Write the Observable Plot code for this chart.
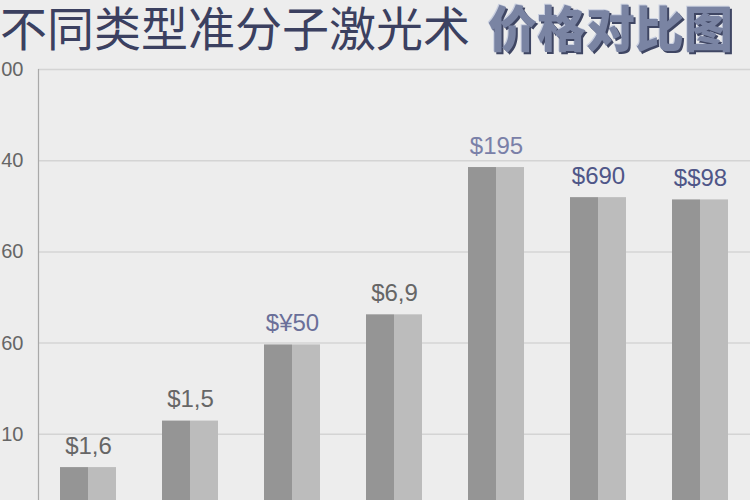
<!DOCTYPE html>
<html>
<head>
<meta charset="utf-8">
<script src="https://cdn.jsdelivr.net/npm/d3@7"></script>
<script src="https://cdn.jsdelivr.net/npm/@observablehq/plot@0.6"></script>
<style>
  html, body { margin: 0; padding: 0; width: 750px; height: 500px; overflow: hidden; background: #ededed; }
  #title { height: 55px; white-space: nowrap; font-family: "Noto Sans CJK SC", sans-serif; margin-left: 0px; }
  #title span { display: inline-block; height: 52px; line-height: 52px; vertical-align: top; }
  #title .a { font-size: 47px; color: #3b4060; font-weight: 400; }
  #title .b { font-size: 49px; color: #7a84a3; font-weight: 900; margin-left: 18px; text-shadow: 2px 2px 0 #3f4663, -1px -1px 0 #c9cfdf; }
  #chart svg { display: block; }
</style>
</head>
<body>
<div id="title"><span class="a">不同类型准分子激光术</span><span class="b">价格对比图</span></div>
<div id="chart"></div>
<script>
const categories = ["A", "B", "C", "D", "E", "F", "G"];
const values = [127, 229, 396, 462, 785, 719, 714];
const valueLabels = ["$1,6", "$1,5", "$¥50", "$6,9", "$195", "$690", "$$98"];
const labelColors = ["#666666", "#666666", "#6a6f99", "#666666", "#7a80a8", "#4f5688", "#4f5688"];
const tickValues = [200, 400, 600, 800, 1000];
const tickLabels = ["10", "60", "60", "40", "00"];

const data = categories.map((c, i) => ({cat: c, value: values[i], label: valueLabels[i], color: labelColors[i]}));
const halfInset = 28;

const chart = Plot.plot({
  width: 750,
  height: 470,
  marginLeft: 38,
  marginRight: 0,
  marginTop: 14,
  marginBottom: 0,
  style: {background: "transparent", fontFamily: "'Liberation Sans', 'Noto Sans', sans-serif"},
  x: {domain: categories, paddingInner: 0.45, paddingOuter: 0.2, axis: null},
  y: {domain: [0, 1000], axis: null, label: null},
  marks: [
    Plot.ruleY(tickValues, {stroke: "#d4d4d4", strokeWidth: 1.5}),
    Plot.frame({anchor: "left", stroke: "#a9a9a9", strokeWidth: 1.2}),
    Plot.axisY(tickValues, {
      tickSize: 0, tickPadding: 15, fontSize: 20, fill: "#666", label: null,
      tickFormat: (d) => tickLabels[tickValues.indexOf(d)]
    }),
    Plot.barY(data, {x: "cat", y: "value", fill: "#959595", insetRight: halfInset}),
    Plot.barY(data, {x: "cat", y: "value", fill: "#bcbcbc", insetLeft: halfInset}),
    Plot.text(data, {x: "cat", y: "value", text: "label", fill: "color", fontSize: 24, lineAnchor: "bottom", dy: -14})
  ]
});
document.getElementById("chart").appendChild(chart);
</script>
</body>
</html>
